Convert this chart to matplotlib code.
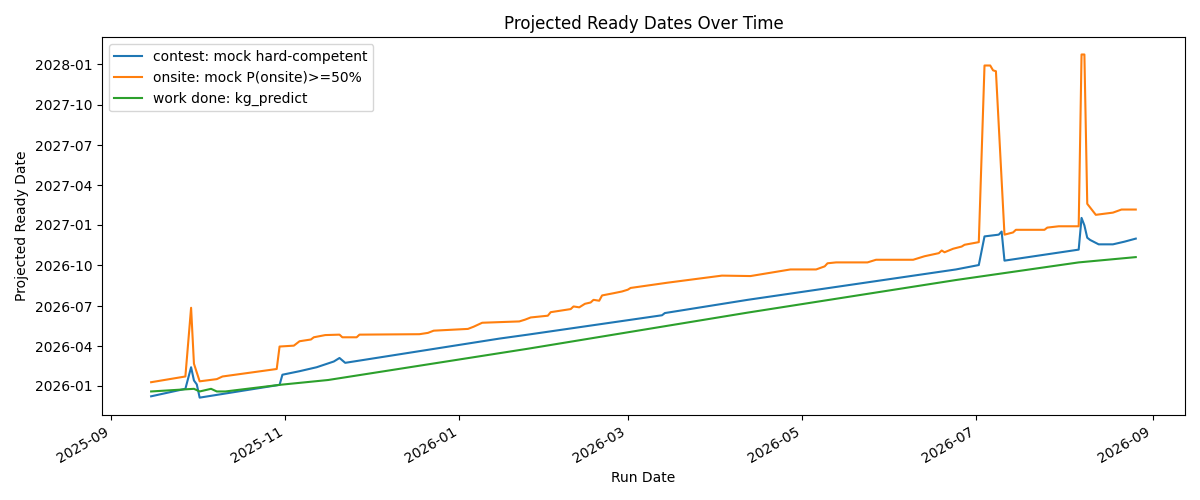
import pandas as pd
import matplotlib
matplotlib.use("Agg")
import matplotlib.pyplot as plt

# contest: mock hard-competent
contest_run = [
    "2025-09-15", "2025-09-27", "2025-09-29", "2025-09-30", "2025-10-01", "2025-10-02",
    "2025-10-30", "2025-10-31", "2025-11-06", "2025-11-12", "2025-11-18", "2025-11-20",
    "2025-11-22", "2026-01-15", "2026-01-25", "2026-03-13", "2026-03-14", "2026-04-12",
    "2026-06-24", "2026-07-02", "2026-07-04", "2026-07-09", "2026-07-10", "2026-07-11",
    "2026-08-06", "2026-08-07", "2026-08-08", "2026-08-09", "2026-08-10", "2026-08-13",
    "2026-08-18", "2026-08-22", "2026-08-26",
]
contest_ready = [
    "2025-12-08", "2025-12-25", "2026-02-12", "2026-01-13", "2026-01-04", "2025-12-05",
    "2026-01-03", "2026-01-26", "2026-02-03", "2026-02-12", "2026-02-25", "2026-03-05",
    "2026-02-22", "2026-04-18", "2026-04-27", "2026-06-10", "2026-06-15", "2026-07-15",
    "2026-09-22", "2026-10-02", "2026-12-06", "2026-12-10", "2026-12-17", "2026-10-12",
    "2026-11-06", "2027-01-17", "2026-12-31", "2026-12-03", "2026-11-28", "2026-11-18",
    "2026-11-18", "2026-11-24", "2026-12-01",
]

# onsite: mock P(onsite)>=50%
onsite_run = [
    "2025-09-15", "2025-09-27", "2025-09-29", "2025-09-30", "2025-10-02", "2025-10-08",
    "2025-10-10", "2025-10-29", "2025-10-30", "2025-11-04", "2025-11-06", "2025-11-10",
    "2025-11-11", "2025-11-15", "2025-11-20", "2025-11-21", "2025-11-26", "2025-11-27",
    "2025-12-18", "2025-12-21", "2025-12-23", "2026-01-04", "2026-01-06", "2026-01-09",
    "2026-01-22", "2026-01-24", "2026-01-26", "2026-02-01", "2026-02-02", "2026-02-09",
    "2026-02-10", "2026-02-12", "2026-02-14", "2026-02-16", "2026-02-17", "2026-02-19",
    "2026-02-20", "2026-02-24", "2026-02-27", "2026-03-01", "2026-03-02", "2026-03-15",
    "2026-04-03", "2026-04-13", "2026-04-27", "2026-05-06", "2026-05-09", "2026-05-10",
    "2026-05-13", "2026-05-24", "2026-05-27", "2026-06-09", "2026-06-13", "2026-06-18",
    "2026-06-19", "2026-06-20", "2026-06-23", "2026-06-26", "2026-06-27", "2026-07-02",
    "2026-07-04", "2026-07-06", "2026-07-07", "2026-07-08", "2026-07-11", "2026-07-14",
    "2026-07-15", "2026-07-25", "2026-07-26", "2026-07-30", "2026-08-06", "2026-08-07",
    "2026-08-08", "2026-08-09", "2026-08-12", "2026-08-18", "2026-08-21", "2026-08-26",
]
onsite_ready = [
    "2026-01-09", "2026-01-22", "2026-06-27", "2026-02-20", "2026-01-11", "2026-01-16",
    "2026-01-22", "2026-02-08", "2026-03-31", "2026-04-02", "2026-04-12", "2026-04-16",
    "2026-04-21", "2026-04-26", "2026-04-27", "2026-04-21", "2026-04-21", "2026-04-27",
    "2026-04-28", "2026-05-01", "2026-05-06", "2026-05-10", "2026-05-15", "2026-05-24",
    "2026-05-27", "2026-05-31", "2026-06-05", "2026-06-09", "2026-06-17", "2026-06-24",
    "2026-06-30", "2026-06-28", "2026-07-06", "2026-07-09", "2026-07-15", "2026-07-13",
    "2026-07-25", "2026-07-30", "2026-08-03", "2026-08-07", "2026-08-11", "2026-08-23",
    "2026-09-08", "2026-09-07", "2026-09-22", "2026-09-22", "2026-09-29", "2026-10-06",
    "2026-10-08", "2026-10-08", "2026-10-14", "2026-10-14", "2026-10-22", "2026-10-29",
    "2026-11-04", "2026-10-31", "2026-11-08", "2026-11-13", "2026-11-17", "2026-11-23",
    "2027-12-29", "2027-12-29", "2027-12-18", "2027-12-16", "2026-12-10", "2026-12-15",
    "2026-12-21", "2026-12-21", "2026-12-26", "2026-12-29", "2026-12-29", "2028-01-23",
    "2028-01-23", "2027-02-18", "2027-01-24", "2027-01-29", "2027-02-05", "2027-02-05",
]

# work done: kg_predict
work_run = [
    "2025-09-15", "2025-09-30", "2025-10-02", "2025-10-06", "2025-10-08", "2025-10-11",
    "2025-10-30", "2025-11-16", "2026-01-25", "2026-04-12", "2026-06-24", "2026-08-06",
    "2026-08-26",
]
work_ready = [
    "2025-12-19", "2025-12-25", "2025-12-19", "2025-12-25", "2025-12-19", "2025-12-19",
    "2026-01-03", "2026-01-14", "2026-03-26", "2026-06-16", "2026-08-29", "2026-10-08",
    "2026-10-20",
]

series = [
    ("contest: mock hard-competent", contest_run, contest_ready),
    ("onsite: mock P(onsite)>=50%", onsite_run, onsite_ready),
    ("work done: kg_predict", work_run, work_ready),
]

fig, ax = plt.subplots(figsize=(12, 5), dpi=100)
for label, run, ready in series:
    ax.plot(pd.to_datetime(run), pd.to_datetime(ready), label=label)

ax.set_title("Projected Ready Dates Over Time")
ax.set_xlabel("Run Date")
ax.set_ylabel("Projected Ready Date")
ax.legend(loc="upper left")
fig.autofmt_xdate()
fig.tight_layout()
fig.savefig("out.png")
